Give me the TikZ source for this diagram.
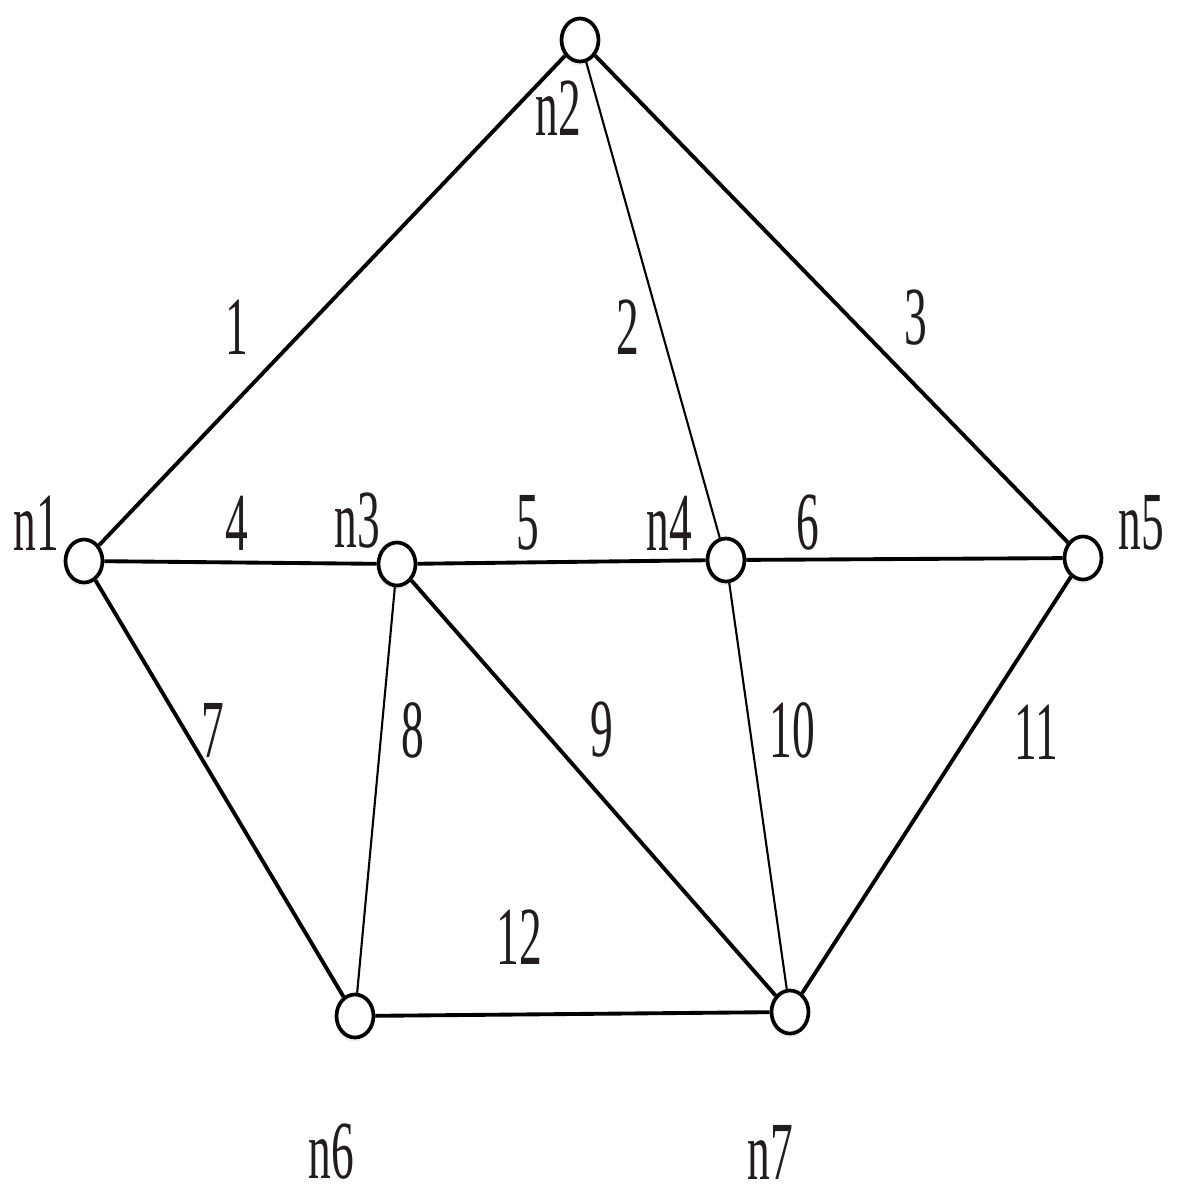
\documentclass[tikz,border=0pt]{standalone}
\usepackage{fontspec}
\setmainfont{Liberation Serif}
\usepackage{graphicx}
\usetikzlibrary{shapes.geometric, shadows}

\definecolor{ink}{RGB}{35,28,30}
\tikzset{
    vtx/.style={ellipse, draw, line width=2.1pt, fill=white, minimum width=0.74cm, minimum height=0.86cm, inner sep=0pt,
        drop shadow={opacity=0.15, shadow xshift=-0.6pt, shadow yshift=-2.2pt}},
    lbl/.style={inner sep=0pt, text=ink, font=\fontsize{47}{50}\selectfont},
    edge/.style={line width=2.2pt},
    thinedge/.style={line width=1.2pt},
}
\newcommand{\tall}[1]{\scalebox{0.55}[1]{#1}}

\begin{document}
\begin{tikzpicture}[x=0.02cm, y=-0.02cm]
    \useasboundingbox (0,0) rectangle (1188,1198);

    % vertices
    \node[vtx] (n1) at (84,561) {};
    \node[vtx] (n2) at (580,40) {};
    \node[vtx] (n3) at (397,564) {};
    \node[vtx] (n4) at (726,560) {};
    \node[vtx] (n5) at (1083,558) {};
    \node[vtx] (n6) at (355,1016) {};
    \node[vtx] (n7) at (790,1012) {};

    % vertex names
    \node[lbl] (n1lab) at (36,523) {\tall{n1}};
    \node[lbl] (n2lab) at (558,108) {\tall{n2}};
    \node[lbl] (n3lab) at (357,521) {\tall{n3}};
    \node[lbl] (n4lab) at (669,523) {\tall{n4}};
    \node[lbl] (n5lab) at (1141,523) {\tall{n5}};
    \node[lbl] (n6lab) at (331,1152) {\tall{n6}};
    \node[lbl] (n7lab) at (770,1152) {\tall{n7}};

    % edges
    \draw[edge] (n1) -- (n2);
    \draw[thinedge] (n2) -- (n4);
    \draw[edge] (n2) -- (n5);
    \draw[edge] (n1) -- (n3);
    \draw[edge] (n3) -- (n4);
    \draw[edge] (n4) -- (n5);
    \draw[edge] (n1) -- (n6);
    \draw[thinedge] (n3) -- (n6);
    \draw[edge] (n3) -- (n7);
    \draw[thinedge] (n4) -- (n7);
    \draw[edge] (n5) -- (n7);
    \draw[edge] (n6) -- (n7);

    % edge numbers
    \node[lbl] (e1) at (237,327) {\tall{1}};
    \node[lbl] (e2) at (628,327) {\tall{2}};
    \node[lbl] (e3) at (916,318) {\tall{3}};
    \node[lbl] (e4) at (237,523) {\tall{4}};
    \node[lbl] (e5) at (528,523) {\tall{5}};
    \node[lbl] (e6) at (808,523) {\tall{6}};
    \node[lbl] (e7) at (213,730) {\tall{7}};
    \node[lbl] (e8) at (413,730) {\tall{8}};
    \node[lbl] (e9) at (602,730) {\tall{9}};
    \node[lbl] (e10) at (792,730) {\tall{10}};
    \node[lbl] (e11) at (1036,732) {\tall{11}};
    \node[lbl] (e12) at (519,937) {\tall{12}};
\end{tikzpicture}
\end{document}
